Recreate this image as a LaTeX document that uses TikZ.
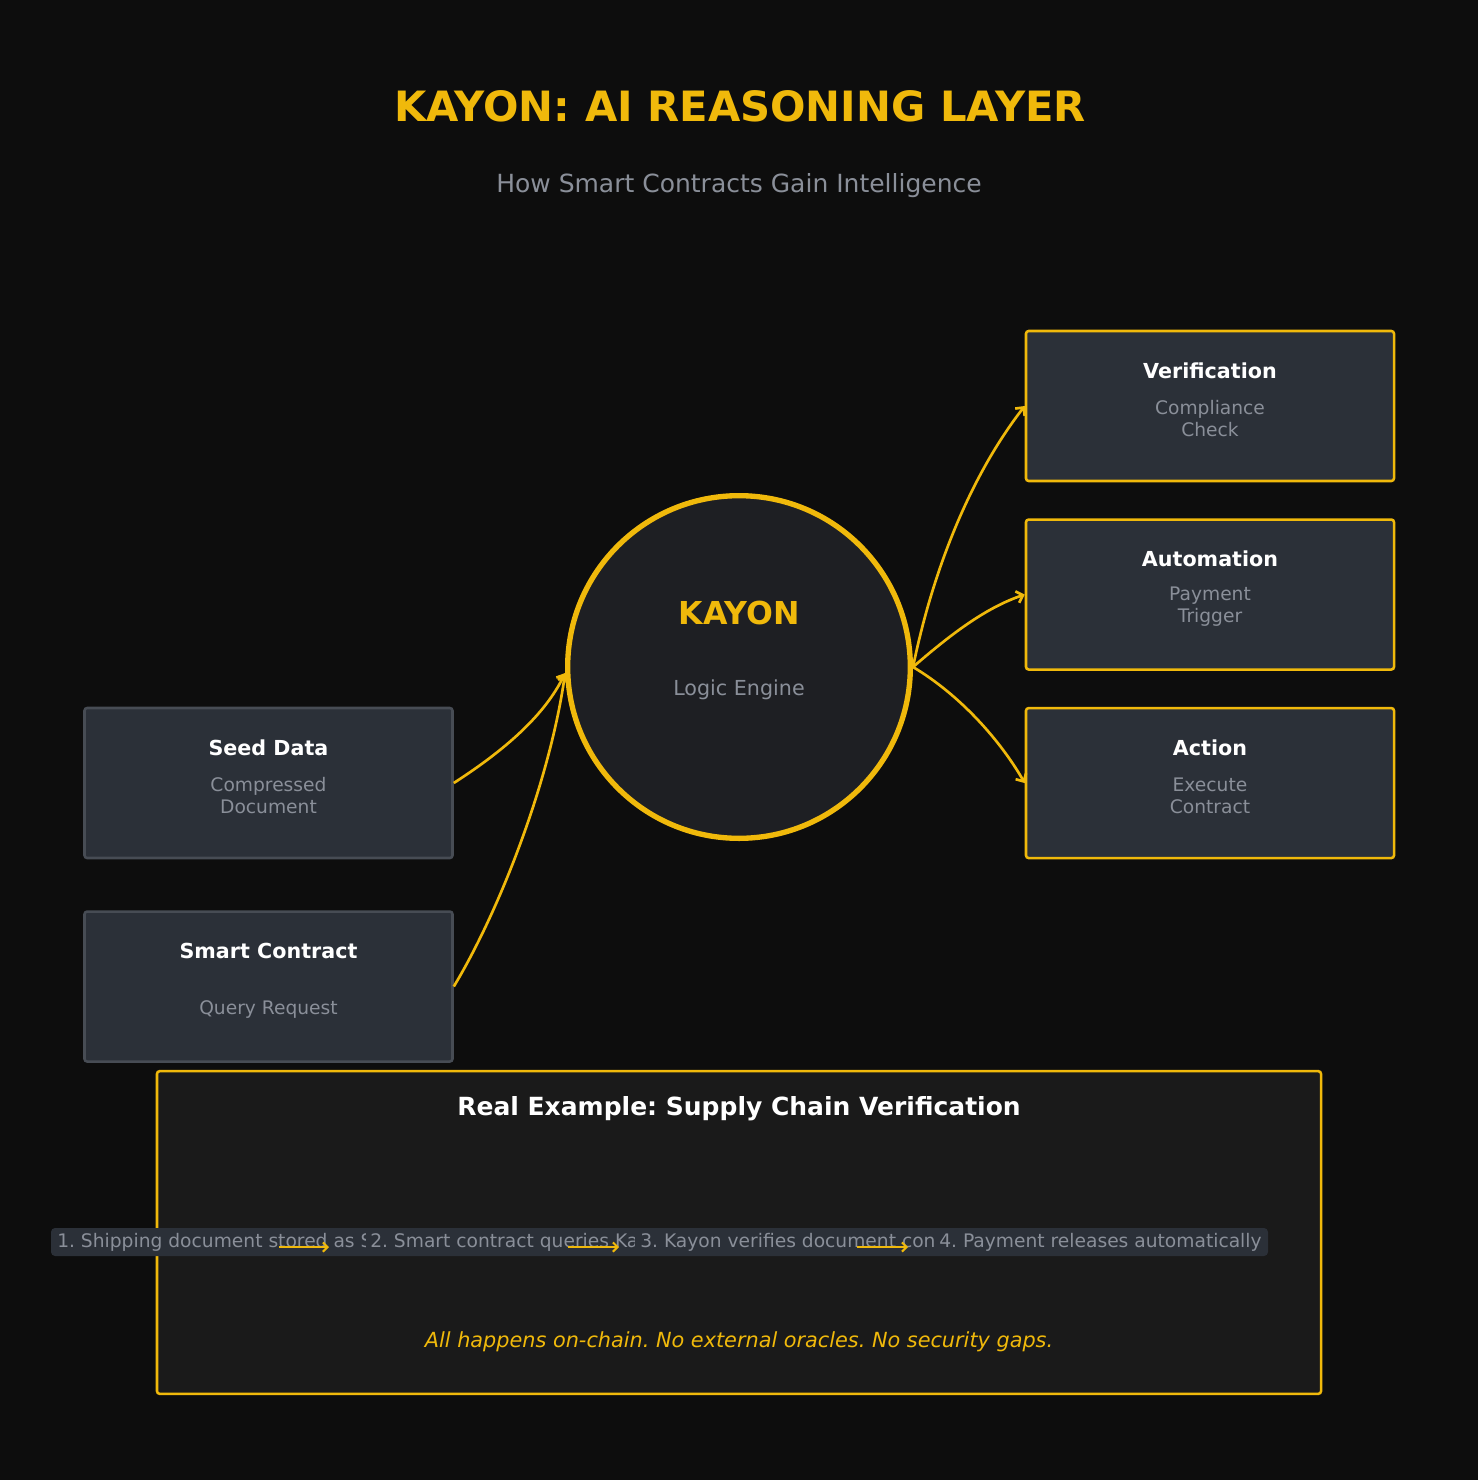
\documentclass[tikz,border=0pt]{standalone}
\usepackage{fontspec}
\setmainfont{DejaVu Sans}
\usetikzlibrary{arrows.meta, positioning}
\frenchspacing

\definecolor{kgold}{HTML}{F0B90B}
\definecolor{kbg}{HTML}{0D0D0D}
\definecolor{kpanel}{HTML}{2B3038}
\definecolor{kcore}{HTML}{1E1F23}
\definecolor{kbottom}{HTML}{1A1A1A}
\definecolor{kedge}{HTML}{474C54}
\definecolor{kmuted}{HTML}{8A8F99}

\begin{document}
\begin{tikzpicture}[
  x=0.75pt, y=-0.75pt,
  box/.style={rectangle, draw=kgold, line width=1.9pt, rounded corners=2pt, fill=kpanel, minimum width=276pt, minimum height=112.5pt, inner sep=0pt},
  inbox/.style={box, draw=kedge},
  ttl/.style={text=white, font=\fontsize{15.5}{18}\selectfont\bfseries, inner sep=0pt},
  sub/.style={text=kmuted, font=\fontsize{14}{16.5}\selectfont, align=center, inner sep=0pt},
  steptxt/.style={text=kmuted, font=\fontsize{14}{16.5}\selectfont, anchor=west, inner sep=0pt},
  arrow/.style={-{Straight Barb[length=4.5pt, width=9pt]}, draw=kgold, line width=2pt},
  steparrow/.style={-{Straight Barb[length=3.5pt, width=7pt]}, draw=kgold, line width=1.5pt}
]

% background
\fill[kbg] (0,0) rectangle (1478,1480);

% heading
\node[text=kgold, font=\fontsize{31.3}{36}\selectfont\bfseries, inner sep=0pt] (title) at (740,106) {KAYON: AI REASONING LAYER};
\node[text=kmuted, font=\fontsize{18.75}{22}\selectfont, inner sep=0pt] (subtitle) at (739,186) {How Smart Contracts Gain Intelligence};

% example panel
\node[box, fill=kbottom, minimum width=873pt, minimum height=242pt] (example) at (739,1232.5) {};
\node[ttl, font=\fontsize{18.75}{22}\selectfont\bfseries] (exampleT) at (739,1109) {Real Example: Supply Chain Verification};
\fill[kpanel, rounded corners=3pt] (51,1228) rectangle (1268,1256);
\begin{scope}
  \clip (51,1228) rectangle (365,1256);
  \node[steptxt] (step1) at (57,1242) {1. Shipping document stored as S};
\end{scope}
\begin{scope}
  \clip (366,1228) rectangle (634,1256);
  \node[steptxt] (step2) at (370,1242) {2. Smart contract queries Ka};
\end{scope}
\begin{scope}
  \clip (636,1228) rectangle (935,1256);
  \node[steptxt] (step3) at (640,1242) {3. Kayon verifies document con};
\end{scope}
\node[steptxt] (step4) at (939,1242) {4. Payment releases automatically};
\coordinate (a1s) at (279,1247); \coordinate (a1e) at (329,1247);
\coordinate (a2s) at (568,1247); \coordinate (a2e) at (619,1247);
\coordinate (a3s) at (857,1247); \coordinate (a3e) at (908,1247);
\draw[steparrow] (a1s) -- (a1e);
\draw[steparrow] (a2s) -- (a2e);
\draw[steparrow] (a3s) -- (a3e);
\node[text=kgold, font=\fontsize{15.6}{18}\selectfont\itshape, inner sep=0pt] (note) at (739,1342) {All happens on-chain. No external oracles. No security gaps.};

% inputs
\node[inbox] (seed) at (268.5,783) {};
\node[ttl] (seedT) at (268.5,748) {Seed Data};
\node[sub] (seedS) at (268.5,796) {Compressed\\Document};
\node[inbox, below=38.25pt of seed] (contract) {};
\node[ttl] (contractT) at (268.5,951) {Smart Contract};
\node[sub] (contractS) at (268.5,1010) {Query Request};

% engine
\node[circle, draw=kgold, line width=4pt, fill=kcore, minimum size=257pt, inner sep=0pt] (core) at (739,667) {};
\node[text=kgold, font=\fontsize{23.7}{28}\selectfont\bfseries, inner sep=0pt] (coreT) at (739,613) {KAYON};
\node[text=kmuted, font=\fontsize{15.5}{18}\selectfont, inner sep=0pt] (coreS) at (739,690) {Logic Engine};

% outputs
\node[box] (verif) at (1210,406) {};
\node[ttl] (verifT) at (1210,371) {Verification};
\node[sub] (verifS) at (1210,419) {Compliance\\Check};
\node[box, below=27pt of verif] (auto) {};
\node[ttl] (autoT) at (1210,559) {Automation};
\node[sub] (autoS) at (1210,607) {Payment\\Trigger};
\node[box, below=27pt of auto] (action) {};
\node[ttl] (actionT) at (1210,748) {Action};
\node[sub] (actionS) at (1210,796) {Execute\\Contract};

% links
\draw[arrow] (seed.east) .. controls (505,750) and (545,715) .. (core.182);
\draw[arrow] (contract.east) .. controls (500,910) and (550,780) .. (core.182);
\draw[arrow] (core.east) .. controls (935,560) and (975,470) .. (verif.west);
\draw[arrow] (core.east) .. controls (950,635) and (985,608) .. (auto.west);
\draw[arrow] (core.east) .. controls (960,695) and (1000,740) .. (action.west);

\end{tikzpicture}
\end{document}
